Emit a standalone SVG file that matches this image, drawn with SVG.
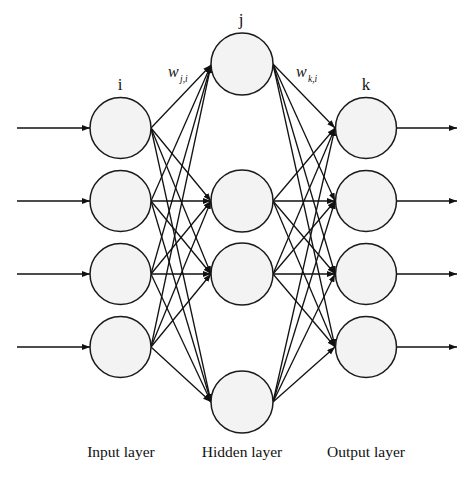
<svg xmlns="http://www.w3.org/2000/svg" width="474" height="477" viewBox="0 0 474 477">
<style>
.n{fill:#f3f3f3;stroke:#1a1a1a;stroke-width:1.5}
.c line{stroke:#111;stroke-width:1.3;marker-end:url(#ah)}
.t{font-family:"Liberation Serif",serif;fill:#111}
.lab{font-size:15.5px;text-anchor:middle}
.big{font-size:17px}
.w{font-style:italic;font-size:16px}
.s{font-style:italic;font-size:9.5px}
</style>
<defs>
<marker id="ah" markerUnits="userSpaceOnUse" markerWidth="9" markerHeight="7" refX="8" refY="3" orient="auto"><path d="M0,0 L8,3 L0,6 z" fill="#111"/></marker>
</defs>
<g id="connectors" class="c">
<line x1="17" y1="128" x2="90" y2="128"/>
<line x1="17" y1="201" x2="90" y2="201"/>
<line x1="17" y1="274" x2="90" y2="274"/>
<line x1="17" y1="347" x2="90" y2="347"/>
<line x1="151" y1="128" x2="211" y2="65"/>
<line x1="151" y1="128" x2="211" y2="201"/>
<line x1="151" y1="128" x2="211" y2="274"/>
<line x1="151" y1="128" x2="211" y2="402"/>
<line x1="151" y1="201" x2="211" y2="65"/>
<line x1="151" y1="201" x2="211" y2="201"/>
<line x1="151" y1="201" x2="211" y2="274"/>
<line x1="151" y1="201" x2="211" y2="402"/>
<line x1="151" y1="274" x2="211" y2="65"/>
<line x1="151" y1="274" x2="211" y2="201"/>
<line x1="151" y1="274" x2="211" y2="274"/>
<line x1="151" y1="274" x2="211" y2="402"/>
<line x1="151" y1="347" x2="211" y2="65"/>
<line x1="151" y1="347" x2="211" y2="201"/>
<line x1="151" y1="347" x2="211" y2="274"/>
<line x1="151" y1="347" x2="211" y2="402"/>
<line x1="273" y1="64" x2="335" y2="128"/>
<line x1="273" y1="64" x2="335" y2="201"/>
<line x1="273" y1="64" x2="335" y2="274"/>
<line x1="273" y1="64" x2="335" y2="347"/>
<line x1="273" y1="201" x2="335" y2="128"/>
<line x1="273" y1="201" x2="335" y2="201"/>
<line x1="273" y1="201" x2="335" y2="274"/>
<line x1="273" y1="201" x2="335" y2="347"/>
<line x1="273" y1="274" x2="335" y2="128"/>
<line x1="273" y1="274" x2="335" y2="201"/>
<line x1="273" y1="274" x2="335" y2="274"/>
<line x1="273" y1="274" x2="335" y2="347"/>
<line x1="273" y1="402" x2="335" y2="128"/>
<line x1="273" y1="402" x2="335" y2="201"/>
<line x1="273" y1="402" x2="335" y2="274"/>
<line x1="273" y1="402" x2="335" y2="347"/>
<line x1="396.5" y1="128" x2="457" y2="128"/>
<line x1="396.5" y1="201" x2="457" y2="201"/>
<line x1="396.5" y1="274" x2="457" y2="274"/>
<line x1="396.5" y1="347" x2="457" y2="347"/>
</g>
<g id="in1"><circle class="n" cx="120.5" cy="128" r="30.5"/></g>
<g id="in2"><circle class="n" cx="120.5" cy="201" r="30.5"/></g>
<g id="in3"><circle class="n" cx="120.5" cy="274" r="30.5"/></g>
<g id="in4"><circle class="n" cx="120.5" cy="347" r="30.5"/></g>
<g id="h1"><circle class="n" cx="242" cy="64" r="31"/></g>
<g id="h2"><circle class="n" cx="242" cy="201" r="31"/></g>
<g id="h3"><circle class="n" cx="242" cy="274" r="31"/></g>
<g id="h4"><circle class="n" cx="242" cy="402" r="31"/></g>
<g id="o1"><circle class="n" cx="366" cy="128" r="30.5"/></g>
<g id="o2"><circle class="n" cx="366" cy="201" r="30.5"/></g>
<g id="o3"><circle class="n" cx="366" cy="274" r="30.5"/></g>
<g id="o4"><circle class="n" cx="366" cy="347" r="30.5"/></g>
<g id="labels" class="t">
<text class="lab big" x="120" y="90">i</text>
<text class="lab big" x="241" y="25">j</text>
<text class="lab big" x="366" y="90">k</text>
<text class="w" x="168" y="77">w</text><text class="s" x="180" y="82">j,i</text>
<text class="w" x="296" y="77">w</text><text class="s" x="308" y="82">k,i</text>
<text class="lab" x="121" y="457">Input layer</text>
<text class="lab" x="242" y="457">Hidden layer</text>
<text class="lab" x="366" y="457">Output layer</text>
</g>
</svg>
